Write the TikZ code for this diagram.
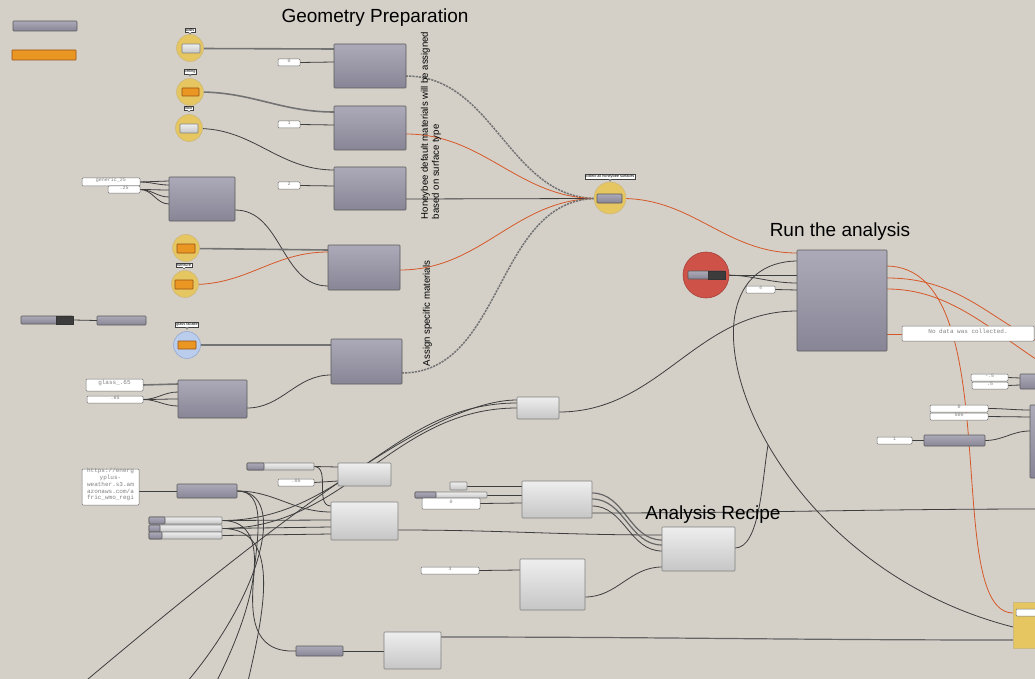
\documentclass[tikz,border=0pt]{standalone}
\usepackage{fontspec}
\setmainfont{Liberation Sans}
\newfontfamily\monof{Liberation Mono}
\usetikzlibrary{fit,calc}
\definecolor{bg}{RGB}{212,208,200}
\definecolor{compT}{RGB}{172,170,184}
\definecolor{compB}{RGB}{136,134,150}
\definecolor{lT}{RGB}{238,238,238}
\definecolor{lB}{RGB}{198,198,198}
\definecolor{orgF}{RGB}{234,150,34}
\definecolor{orgD}{RGB}{150,80,20}
\definecolor{parY}{RGB}{230,198,96}
\definecolor{parYD}{RGB}{205,185,130}
\definecolor{parR}{RGB}{206,82,72}
\definecolor{parB}{RGB}{186,205,236}
\definecolor{parBD}{RGB}{150,170,210}
\definecolor{wireD}{RGB}{62,62,62}
\definecolor{wireO}{RGB}{214,88,40}
\definecolor{sldD}{RGB}{60,60,60}
\pgfdeclarelayer{back}
\pgfdeclarelayer{wires}
\pgfsetlayers{back,wires,main}
\newcommand\tagptr[1]{\filldraw[fill=white, draw=black!75, line width=0.3pt] ($(#1.south)+(-1.4,0)$) -- ($(#1.south)+(0,1.8)$) -- ($(#1.south)+(1.4,0)$);}
\begin{document}
\begin{tikzpicture}[x=1pt,y=-1pt,
  every node/.style={inner sep=0pt, outer sep=0pt},
  comp/.style={draw=black!65, line width=0.6pt, top color=compT, bottom color=compB, rounded corners=0.8pt},
  lcomp/.style={draw=black!50, line width=0.6pt, top color=lT, bottom color=lB, rounded corners=0.8pt},
  orgbox/.style={draw=orgD, line width=0.6pt, fill=orgF, rounded corners=0.5pt},
  dkbox/.style={draw=black!80, line width=0.5pt, fill=sldD},
  panel/.style={draw=black!55, line width=0.5pt, fill=white, rounded corners=1pt, font=\monof\fontsize{5}{5}\selectfont, text=black!50},
  param/.style={circle, fill=parY, draw=parYD, line width=0.6pt},
  tag/.style={draw=black!75, fill=white, line width=0.4pt, font=\fontsize{3.8}{3.8}\selectfont, inner xsep=0.8pt, inner ysep=0.8pt},
  wire/.style={draw=wireD, line width=0.8pt},
  lwire/.style={draw=black!60, line width=1.2pt},
  gwire/.style={draw=black!55, line width=1.6pt},
  owire/.style={draw=wireO, line width=0.8pt},
  dwire/.style={draw=black!55, line width=1.5pt, dash pattern=on 2.2pt off 1pt},
  title/.style={font=\fontsize{19}{22}\selectfont},
  note/.style={font=\fontsize{9.6}{11}\selectfont, rotate=90, align=left, anchor=north west}
]
\useasboundingbox (0,0) rectangle (1035,679);
\begin{pgfonlayer}{back}
\fill[bg] (0,0) rectangle (1035,679);
\end{pgfonlayer}

% legend
\node[comp, fit={(13,21)(77,31)}] (leg1) {};
\node[orgbox, fit={(12,50)(76,60)}] (leg2) {};

% geometry params
\node[param, minimum size=27pt] (pw) at (190,48) {};
\node[lcomp, fit={(182,44)(200,53)}] (pwi) {};
\node[tag] (tw) at (190,30) {walls};
\node[param, minimum size=27pt] (pcl) at (190,92) {};
\node[orgbox, fit={(182,88)(199,96)}] (pcli) {};
\node[tag] (tcl) at (190,72) {ceiling};
\node[param, minimum size=27pt] (pf) at (189,128) {};
\node[lcomp, fit={(180,124)(198,133)}] (pfi) {};
\node[tag] (tf) at (189,108) {floor};

\node[comp, fit={(334,44)(406,88)}] (g1) {};
\node[comp, fit={(334,106)(406,150)}] (g2) {};
\node[comp, fit={(334,167)(406,210)}] (g3) {};
\node[panel, fit={(278,59)(300,66)}] (n1) {0};
\node[panel, fit={(278,121)(300,128)}] (n2) {1};
\node[panel, fit={(278,182)(300,189)}] (n3) {2};

% generic
\node[panel, fit={(82,178)(140,186)}] (pg1) {generic\_25};
\node[panel, fit={(108,186)(140,193)}] (pg2) {.25};
\node[comp, fit={(169,177)(235,221)}] (gb) {};

% furniture
\node[param, minimum size=27pt] (po1) at (186,248) {};
\node[orgbox, fit={(177,244)(195,253)}] (po1i) {};
\node[param, minimum size=27pt] (po2) at (185,284) {};
\node[orgbox, fit={(175,280)(193,289)}] (po2i) {};
\node[tag] (tfu) at (184,265) {furniture};
\node[comp, fit={(328,245)(400,290)}] (g4) {};

% slider left
\node[comp, fit={(21,316)(73,324)}] (s1) {};
\node[dkbox, fit={(56,316)(73,324)}] (s1k) {};
\node[comp, fit={(97,316)(146,325)}] (b1) {};

% glass facade
\node[param, fill=parB, draw=parBD, minimum size=27pt] (pb) at (187,345) {};
\node[orgbox, fit={(178,341)(196,349)}] (pbi) {};
\node[tag] (tgf) at (187,325) {glass facade};
\node[comp, fit={(331,339)(402,384)}] (g5) {};
\node[panel, fit={(86,379)(143,391)}, font=\monof\fontsize{6}{6}\selectfont] (pgl1) {glass\_.65};
\node[panel, fit={(87,396)(143,403)}] (pgl2) {.65};
\node[comp, fit={(178,380)(247,418)}] (gg) {};

% collect
\node[param, minimum size=32pt] (pc) at (610,198) {};
\node[comp, fit={(597,194)(622,203)}] (pci) {};
\node[tag] (tc) at (610,177) {collect all honeybee surfaces};

% run analysis
\node[param, fill=parR, draw=parR!80!black, minimum size=46pt] (pr) at (706,275) {};
\node[comp, fit={(688,271)(725,279)}] (prs) {};
\node[dkbox, fit={(708,271)(725,279)}] (prk) {};
\node[panel, fit={(746,286)(775,293)}] (n4) {4};
\node[comp, fit={(797,250)(887,351)}] (BB) {};
\node[panel, fit={(902,326)(1034,341)}, font=\monof\fontsize{6}{6}\selectfont] (pn) {No data was collected.};

% right side
\node[panel, fit={(971,374)(1008,381)}] (nr1) {-.5};
\node[panel, fit={(972,382)(1008,389)}] (nr2) {.5};
\node[comp, fit={(1020,374)(1045,389)}] (rb1) {};
\node[panel, fit={(930,405)(988,412)}] (nr3) {0};
\node[panel, fit={(930,413)(988,420)}] (nr4) {500};
\node[comp, fit={(1030,405)(1045,478)}] (rb2) {};
\node[panel, fit={(877,437)(912,444)}] (nr5) {1};
\node[comp, fit={(924,435)(985,446)}] (rb3) {};
\node[fill=parY, draw=parYD, line width=0.6pt, fit={(1013,602)(1045,648)}] (yg) {};
\node[panel, fit={(1016,609)(1045,616)}] (ygp) {};

% lower left
\node[lcomp, fit={(517,397)(559,419)}] (l1) {};
\node[panel, fit={(82,469)(139,505)}, align=center, font=\monof\fontsize{6}{6.8}\selectfont] (pu) {https://energ\\yplus-\\weather.s3.am\\azonaws.com/a\\fric\_wmo\_regi};
\node[comp, fit={(177,484)(237,498)}] (bu) {};
\node[lcomp, fit={(247,463)(314,470)}] (s2) {};
\node[comp, fit={(247,463)(264,470)}] (s2k) {};
\node[panel, fit={(278,479)(314,486)}] (p05) {.05};
\node[lcomp, fit={(338,463)(391,486)}] (l2) {};
\node[lcomp, fit={(149,517)(222,524)}] (s3) {};
\node[comp, fit={(149,517)(165,524)}] (s3k) {};
\node[lcomp, fit={(149,525)(222,532)}] (s4) {};
\node[comp, fit={(149,525)(160,532)}] (s4k) {};
\node[lcomp, fit={(149,532)(222,539)}] (s5) {};
\node[comp, fit={(149,532)(162,539)}] (s5k) {};
\node[lcomp, fit={(331,502)(398,540)}] (l3) {};
\node[lcomp, fit={(450,482)(467,490)}] (sm) {};
\node[lcomp, fit={(415,492)(487,498)}] (s6) {};
\node[comp, fit={(415,492)(436,498)}] (s6k) {};
\node[panel, fit={(422,498)(480,509)}] (p0) {0};
\node[lcomp, fit={(522,481)(592,518)}] (l4) {};
\node[lcomp, fit={(662,527)(735,571)}] (R) {};
\node[panel, fit={(421,567)(479,574)}] (p3) {3};
\node[lcomp, fit={(520,559)(585,610)}] (l5) {};
\node[comp, fit={(296,646)(343,656)}] (b16) {};
\node[lcomp, fit={(384,632)(441,669)}] (l16) {};

% tag pointers
\tagptr{tw}\tagptr{tcl}\tagptr{tf}\tagptr{tfu}\tagptr{tgf}\tagptr{tc}

% titles and notes
\node[title] (t1) at (375,18) {Geometry Preparation};
\node[title] (t2) at (840,232) {Run the analysis};
\node[title] (t3) at (713,515) {Analysis Recipe};
\node[note] (nt1) at (421,219) {Honeybee default materials will be assigned\\based on surface type};
\node[note] (nt2) at (423,366) {Assign specific materials};

% free ends
\coordinate (c1) at (75,690);
\coordinate (c2) at (180,690);
\coordinate (c3) at (212,690);
\coordinate (c4) at (246,690);
\coordinate (offR) at (1045,509);
\coordinate (offO1) at (1045,345);
\coordinate (offO2) at (1045,365);
\coordinate (rj) at (768,445);

\begin{pgfonlayer}{wires}
% geometry
\draw[gwire] (pwi.east) -- (g1.west |- 0,49);
\draw[gwire] (pcli.east) to[out=0,in=180] (g2.west |- 0,112);
\draw[wire] (pfi.east) to[out=0,in=180] (g3.west |- 0,170);
\draw[wire] (n1.east) -- (g1.west |- 0,62);
\draw[wire] (n2.east) -- (g2.west |- 0,125);
\draw[wire] (n3.east) -- (g3.west |- 0,186);
\draw[dwire] (g1.east |- 0,76) to[out=0,in=180] (pci.west);
\draw[owire] (g2.east |- 0,134) to[out=0,in=180] (pci.west);
\draw[wire] (g3.east |- 0,199) -- (pci.west);
\draw[owire] (g4.east |- 0,270) to[out=0,in=180] (pci.west);
\draw[dwire] (g5.east |- 0,373) to[out=0,in=180] (pci.west);
% generic
\draw[wire] (pg1.east) -- (gb.west |- 0,181);
\draw[wire] (pg1.east) to[out=0,in=180] (gb.west |- 0,185);
\draw[wire] (pg2.east) to[out=0,in=180] (gb.west |- 0,190);
\draw[wire] (pg2.east) to[out=0,in=180] (gb.west |- 0,197);
\draw[wire] (pg2.east) to[out=0,in=180] (gb.west |- 0,204);
\draw[wire] (gb.east |- 0,210) to[out=0,in=180] (g4.west |- 0,286);
\draw[gwire] (po1i.east) -- (g4.west |- 0,250);
\draw[owire] (po2i.east) to[out=0,in=180] (g4.west |- 0,252);
\draw[wire] (s1k.east) -- (b1.west);
\draw[gwire] (pbi.east) -- (g5.west |- 0,345);
\draw[gwire] (pgl1.east) -- (gg.west |- 0,384);
\draw[wire] (pgl2.east) to[out=0,in=180] (gg.west |- 0,392);
\draw[wire] (pgl2.east) to[out=0,in=180] (gg.west |- 0,399);
\draw[wire] (pgl2.east) to[out=0,in=180] (gg.west |- 0,406);
\draw[wire] (gg.east |- 0,408) to[out=0,in=180] (g5.west |- 0,375);
% run analysis
\draw[owire] (pci.east) to[out=0,in=180] (BB.west |- 0,253);
\draw[wire] (prk.east) -- (BB.west |- 0,275);
\draw[wire] (prk.east) to[out=0,in=180] (BB.west |- 0,283);
\draw[wire] (n4.east) -- (BB.west |- 0,290);
\draw[wire] (l1.east |- 0,412) to[out=0,in=180] (BB.west |- 0,311);
\draw[wire] (BB.west |- 0,261) .. controls (660,263) and (750,560) .. (yg.west |- 0,627);
\draw[wire] (R.east |- 0,548) .. controls (760,548) and (762,480) .. (rj);
\draw[owire] (BB.east |- 0,266) .. controls (1010,268) and (940,612) .. (yg.west |- 0,613);
\draw[owire] (BB.east |- 0,278) .. controls (960,278) and (990,320) .. (offO1);
\draw[owire] (BB.east |- 0,289) .. controls (950,289) and (990,330) .. (offO2);
\draw[owire] (BB.east |- 0,334) -- (pn.west |- 0,334);
% right side
\draw[wire] (nr1.east) -- (rb1.west |- 0,378);
\draw[wire] (nr2.east) -- (rb1.west |- 0,385);
\draw[wire] (nr3.east) to[out=0,in=180] (rb2.west |- 0,410);
\draw[wire] (nr4.east) -- (rb2.west |- 0,417);
\draw[wire] (nr5.east) -- (rb3.west);
\draw[wire] (rb3.east) to[out=0,in=180] (rb2.west |- 0,431);
% lower left
\draw[wire] (pu.east |- 0,491) -- (bu.west |- 0,491);
\draw[wire] (bu.east) to[out=0,in=180] (l3.west |- 0,512);
\draw[wire] (bu.east) .. controls (290,491) and (260,600) .. (c2);
\draw[wire] (bu.east) .. controls (295,491) and (205,655) .. (b16.west);
\draw[wire] (s3.east) .. controls (280,520) and (250,620) .. (c3);
\draw[wire] (s4.east) .. controls (285,528) and (262,620) .. (c4);
\draw[wire] (s3.east) to[out=0,in=180] (l1.west |- 0,403);
\draw[wire] (s4.east) to[out=0,in=180] (l1.west |- 0,408);
\draw[wire] (c1) .. controls (300,500) and (440,400) .. (l1.west |- 0,400);
\draw[wire] (s3.east) -- (l3.west |- 0,520);
\draw[wire] (s4.east) -- (l3.west |- 0,527);
\draw[wire] (s5.east) -- (l3.west |- 0,534);
\draw[wire] (s2.east) -- (l2.west |- 0,467);
\draw[wire] (s2.east) to[out=0,in=180] (l3.west |- 0,506);
\draw[wire] (p05.east) -- (l2.west |- 0,481);
\draw[wire] (l3.east |- 0,530) to[out=0,in=180] (R.west |- 0,535);
\draw[wire] (sm.east) -- (l4.west |- 0,486);
\draw[wire] (s6.east) -- (l4.west |- 0,495);
\draw[wire] (p0.east) -- (l4.west |- 0,503);
\draw[lwire] (l4.east |- 0,493) to[out=0,in=180] (R.west |- 0,540);
\draw[lwire] (l4.east |- 0,499) to[out=0,in=180] (R.west |- 0,545);
\draw[wire] (l4.east |- 0,506) to[out=0,in=180] (R.west |- 0,551);
\draw[wire] (l4.east |- 0,513) to[out=0,in=180] (offR);
\draw[wire] (p3.east) -- (l5.west |- 0,570);
\draw[wire] (l5.east |- 0,597) to[out=0,in=180] (R.west |- 0,567);
\draw[wire] (b16.east) -- (l16.west |- 0,651);
\draw[lwire] (l16.east |- 0,637) to[out=0,in=180] (yg.west |- 0,640);
\end{pgfonlayer}
\end{tikzpicture}
\end{document}
